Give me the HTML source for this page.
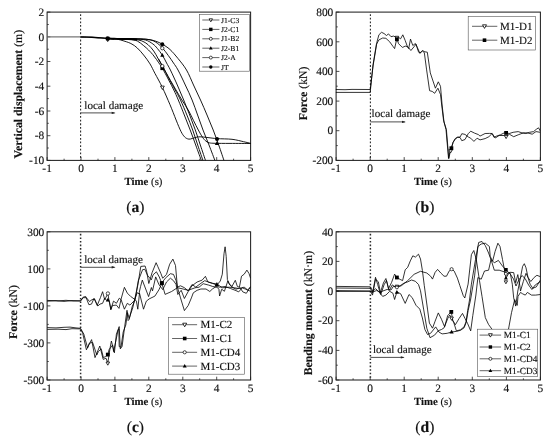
<!DOCTYPE html>
<html><head><meta charset="utf-8"><title>Figure</title>
<style>html,body{margin:0;padding:0;background:#fff;overflow:hidden}svg{display:block}text{stroke:#111;stroke-width:0.15px}</style></head>
<body>
<svg width="550" height="439" viewBox="0 0 550 439" font-family="'Liberation Serif',serif" fill="#111" text-rendering="geometricPrecision" >
<rect x="47.1" y="12.1" width="203.5" height="148.3" fill="none" stroke="#222" stroke-width="1.05"/>
<path d="M47.1 160.4 v-3.3 M64.1 160.4 v-1.7 M81.0 160.4 v-3.3 M98.0 160.4 v-1.7 M114.9 160.4 v-3.3 M131.9 160.4 v-1.7 M148.8 160.4 v-3.3 M165.8 160.4 v-1.7 M182.8 160.4 v-3.3 M199.7 160.4 v-1.7 M216.7 160.4 v-3.3 M233.6 160.4 v-1.7 M250.6 160.4 v-3.3 M47.1 12.1 h3.3 M47.1 24.5 h1.7 M47.1 36.8 h3.3 M47.1 49.2 h1.7 M47.1 61.5 h3.3 M47.1 73.9 h1.7 M47.1 86.2 h3.3 M47.1 98.6 h1.7 M47.1 111.0 h3.3 M47.1 123.3 h1.7 M47.1 135.7 h3.3 M47.1 148.0 h1.7 M47.1 160.4 h3.3 " stroke="#222" stroke-width="0.8" fill="none"/>
<text x="47.1" y="172.1" font-size="11.4" text-anchor="middle" font-weight="normal" >-1</text>
<text x="81.0" y="172.1" font-size="11.4" text-anchor="middle" font-weight="normal" >0</text>
<text x="114.9" y="172.1" font-size="11.4" text-anchor="middle" font-weight="normal" >1</text>
<text x="148.8" y="172.1" font-size="11.4" text-anchor="middle" font-weight="normal" >2</text>
<text x="182.8" y="172.1" font-size="11.4" text-anchor="middle" font-weight="normal" >3</text>
<text x="216.7" y="172.1" font-size="11.4" text-anchor="middle" font-weight="normal" >4</text>
<text x="250.6" y="172.1" font-size="11.4" text-anchor="middle" font-weight="normal" >5</text>
<text x="44.3" y="15.8" font-size="11.4" text-anchor="end" font-weight="normal" >2</text>
<text x="44.3" y="40.5" font-size="11.4" text-anchor="end" font-weight="normal" >0</text>
<text x="44.3" y="65.2" font-size="11.4" text-anchor="end" font-weight="normal" >-2</text>
<text x="44.3" y="90.0" font-size="11.4" text-anchor="end" font-weight="normal" >-4</text>
<text x="44.3" y="114.7" font-size="11.4" text-anchor="end" font-weight="normal" >-6</text>
<text x="44.3" y="139.4" font-size="11.4" text-anchor="end" font-weight="normal" >-8</text>
<text x="44.3" y="164.1" font-size="11.4" text-anchor="end" font-weight="normal" >-10</text>
<path d="M80.6 12.1 V160.4" stroke="#2a2a2a" stroke-width="1.1" stroke-dasharray="1.8 1.84" stroke-dashoffset="1.6" fill="none"/>
<text x="143.5" y="185.1" font-size="10.8" text-anchor="middle"><tspan font-weight="bold">Time</tspan> (s)</text>
<text transform="translate(22.3 94.1) rotate(-90)" font-size="11.8" text-anchor="middle"><tspan font-weight="bold">Vertical displacement</tspan> (m)</text>
<text x="135.4" y="212.4" font-size="15.6" text-anchor="middle">(<tspan font-weight="bold">a</tspan>)</text>
<rect x="336.1" y="12.1" width="204.3" height="148.3" fill="none" stroke="#222" stroke-width="1.05"/>
<path d="M336.1 160.4 v-3.3 M353.1 160.4 v-1.7 M370.2 160.4 v-3.3 M387.2 160.4 v-1.7 M404.2 160.4 v-3.3 M421.2 160.4 v-1.7 M438.2 160.4 v-3.3 M455.3 160.4 v-1.7 M472.3 160.4 v-3.3 M489.3 160.4 v-1.7 M506.4 160.4 v-3.3 M523.4 160.4 v-1.7 M540.4 160.4 v-3.3 M336.1 12.1 h3.3 M336.1 26.9 h1.7 M336.1 41.8 h3.3 M336.1 56.6 h1.7 M336.1 71.4 h3.3 M336.1 86.2 h1.7 M336.1 101.1 h3.3 M336.1 115.9 h1.7 M336.1 130.7 h3.3 M336.1 145.6 h1.7 M336.1 160.4 h3.3 " stroke="#222" stroke-width="0.8" fill="none"/>
<text x="336.1" y="172.1" font-size="11.4" text-anchor="middle" font-weight="normal" >-1</text>
<text x="370.2" y="172.1" font-size="11.4" text-anchor="middle" font-weight="normal" >0</text>
<text x="404.2" y="172.1" font-size="11.4" text-anchor="middle" font-weight="normal" >1</text>
<text x="438.2" y="172.1" font-size="11.4" text-anchor="middle" font-weight="normal" >2</text>
<text x="472.3" y="172.1" font-size="11.4" text-anchor="middle" font-weight="normal" >3</text>
<text x="506.4" y="172.1" font-size="11.4" text-anchor="middle" font-weight="normal" >4</text>
<text x="540.4" y="172.1" font-size="11.4" text-anchor="middle" font-weight="normal" >5</text>
<text x="333.3" y="15.8" font-size="11.4" text-anchor="end" font-weight="normal" >800</text>
<text x="333.3" y="45.5" font-size="11.4" text-anchor="end" font-weight="normal" >600</text>
<text x="333.3" y="75.1" font-size="11.4" text-anchor="end" font-weight="normal" >400</text>
<text x="333.3" y="104.8" font-size="11.4" text-anchor="end" font-weight="normal" >200</text>
<text x="333.3" y="134.4" font-size="11.4" text-anchor="end" font-weight="normal" >0</text>
<text x="333.3" y="164.1" font-size="11.4" text-anchor="end" font-weight="normal" >-200</text>
<path d="M370.4 12.1 V160.4" stroke="#2a2a2a" stroke-width="1.1" stroke-dasharray="1.8 1.84" stroke-dashoffset="1.6" fill="none"/>
<text x="432.9" y="185.1" font-size="10.8" text-anchor="middle"><tspan font-weight="bold">Time</tspan> (s)</text>
<text transform="translate(306.6 93.4) rotate(-90)" font-size="11.8" text-anchor="middle"><tspan font-weight="bold">Force</tspan> (kN)</text>
<text x="424.9" y="212.4" font-size="15.6" text-anchor="middle">(<tspan font-weight="bold">b</tspan>)</text>
<rect x="47.1" y="231.8" width="203.5" height="148.2" fill="none" stroke="#222" stroke-width="1.05"/>
<path d="M47.1 380.0 v-3.3 M64.1 380.0 v-1.7 M81.0 380.0 v-3.3 M98.0 380.0 v-1.7 M114.9 380.0 v-3.3 M131.9 380.0 v-1.7 M148.8 380.0 v-3.3 M165.8 380.0 v-1.7 M182.8 380.0 v-3.3 M199.7 380.0 v-1.7 M216.7 380.0 v-3.3 M233.6 380.0 v-1.7 M250.6 380.0 v-3.3 M47.1 231.8 h3.3 M47.1 250.3 h1.7 M47.1 268.9 h3.3 M47.1 287.4 h1.7 M47.1 305.9 h3.3 M47.1 324.4 h1.7 M47.1 342.9 h3.3 M47.1 361.5 h1.7 M47.1 380.0 h3.3 " stroke="#222" stroke-width="0.8" fill="none"/>
<text x="47.1" y="391.7" font-size="11.4" text-anchor="middle" font-weight="normal" >-1</text>
<text x="81.0" y="391.7" font-size="11.4" text-anchor="middle" font-weight="normal" >0</text>
<text x="114.9" y="391.7" font-size="11.4" text-anchor="middle" font-weight="normal" >1</text>
<text x="148.8" y="391.7" font-size="11.4" text-anchor="middle" font-weight="normal" >2</text>
<text x="182.8" y="391.7" font-size="11.4" text-anchor="middle" font-weight="normal" >3</text>
<text x="216.7" y="391.7" font-size="11.4" text-anchor="middle" font-weight="normal" >4</text>
<text x="250.6" y="391.7" font-size="11.4" text-anchor="middle" font-weight="normal" >5</text>
<text x="44.3" y="235.5" font-size="11.4" text-anchor="end" font-weight="normal" >300</text>
<text x="44.3" y="272.6" font-size="11.4" text-anchor="end" font-weight="normal" >100</text>
<text x="44.3" y="309.6" font-size="11.4" text-anchor="end" font-weight="normal" >-100</text>
<text x="44.3" y="346.6" font-size="11.4" text-anchor="end" font-weight="normal" >-300</text>
<text x="44.3" y="383.7" font-size="11.4" text-anchor="end" font-weight="normal" >-500</text>
<path d="M80.6 231.8 V380.0" stroke="#2a2a2a" stroke-width="1.5" stroke-dasharray="1.6 1.96" stroke-dashoffset="1.5" fill="none"/>
<text x="143.5" y="404.7" font-size="10.8" text-anchor="middle"><tspan font-weight="bold">Time</tspan> (s)</text>
<text transform="translate(16.6 312.0) rotate(-90)" font-size="11.8" text-anchor="middle"><tspan font-weight="bold">Force</tspan> (kN)</text>
<text x="135.4" y="432.0" font-size="15.6" text-anchor="middle">(<tspan font-weight="bold">c</tspan>)</text>
<rect x="336.1" y="231.8" width="204.3" height="148.2" fill="none" stroke="#222" stroke-width="1.05"/>
<path d="M336.1 380.0 v-3.3 M353.1 380.0 v-1.7 M370.2 380.0 v-3.3 M387.2 380.0 v-1.7 M404.2 380.0 v-3.3 M421.2 380.0 v-1.7 M438.2 380.0 v-3.3 M455.3 380.0 v-1.7 M472.3 380.0 v-3.3 M489.3 380.0 v-1.7 M506.4 380.0 v-3.3 M523.4 380.0 v-1.7 M540.4 380.0 v-3.3 M336.1 231.8 h3.3 M336.1 246.6 h1.7 M336.1 261.4 h3.3 M336.1 276.3 h1.7 M336.1 291.1 h3.3 M336.1 305.9 h1.7 M336.1 320.7 h3.3 M336.1 335.5 h1.7 M336.1 350.4 h3.3 M336.1 365.2 h1.7 M336.1 380.0 h3.3 " stroke="#222" stroke-width="0.8" fill="none"/>
<text x="336.1" y="391.7" font-size="11.4" text-anchor="middle" font-weight="normal" >-1</text>
<text x="370.2" y="391.7" font-size="11.4" text-anchor="middle" font-weight="normal" >0</text>
<text x="404.2" y="391.7" font-size="11.4" text-anchor="middle" font-weight="normal" >1</text>
<text x="438.2" y="391.7" font-size="11.4" text-anchor="middle" font-weight="normal" >2</text>
<text x="472.3" y="391.7" font-size="11.4" text-anchor="middle" font-weight="normal" >3</text>
<text x="506.4" y="391.7" font-size="11.4" text-anchor="middle" font-weight="normal" >4</text>
<text x="540.4" y="391.7" font-size="11.4" text-anchor="middle" font-weight="normal" >5</text>
<text x="333.3" y="235.5" font-size="11.4" text-anchor="end" font-weight="normal" >40</text>
<text x="333.3" y="265.1" font-size="11.4" text-anchor="end" font-weight="normal" >20</text>
<text x="333.3" y="294.8" font-size="11.4" text-anchor="end" font-weight="normal" >0</text>
<text x="333.3" y="324.4" font-size="11.4" text-anchor="end" font-weight="normal" >-20</text>
<text x="333.3" y="354.1" font-size="11.4" text-anchor="end" font-weight="normal" >-40</text>
<text x="333.3" y="383.7" font-size="11.4" text-anchor="end" font-weight="normal" >-60</text>
<path d="M370.4 231.8 V380.0" stroke="#2a2a2a" stroke-width="1.5" stroke-dasharray="1.6 1.96" stroke-dashoffset="1.5" fill="none"/>
<text x="432.9" y="404.7" font-size="10.8" text-anchor="middle"><tspan font-weight="bold">Time</tspan> (s)</text>
<text transform="translate(311.6 313.1) rotate(-90)" font-size="11.8" text-anchor="middle"><tspan font-weight="bold">Bending moment</tspan> (kN·m)</text>
<text x="424.9" y="432.0" font-size="15.6" text-anchor="middle">(<tspan font-weight="bold">d</tspan>)</text>
<path d="M80.6 112.9 H114.5" stroke="#222" stroke-width="0.8"/>
<path d="M115.5 112.9 l-3.8 -1.2 v2.4 Z" fill="#222"/>
<text x="84.3" y="109.1" font-size="11.1" text-anchor="start" font-weight="normal" >local damage</text>
<path d="M370.4 121.9 H404.8" stroke="#222" stroke-width="0.8"/>
<path d="M405.8 121.9 l-3.8 -1.2 v2.4 Z" fill="#222"/>
<text x="371.6" y="117.2" font-size="11.1" text-anchor="start" font-weight="normal" >local damage</text>
<path d="M80.6 267.3 H114.5" stroke="#222" stroke-width="0.8"/>
<path d="M115.5 267.3 l-3.8 -1.2 v2.4 Z" fill="#222"/>
<text x="84.2" y="263.3" font-size="11.1" text-anchor="start" font-weight="normal" >local damage</text>
<path d="M370.4 357.4 H403.6" stroke="#222" stroke-width="0.8"/>
<path d="M404.6 357.4 l-3.8 -1.2 v2.4 Z" fill="#222"/>
<text x="372.9" y="353.2" font-size="11.1" text-anchor="start" font-weight="normal" >local damage</text>
<clipPath id="ca"><rect x="47.3" y="11.9" width="203.5" height="148.4"/></clipPath><g clip-path="url(#ca)">
<path d="M80.7 36.9 C81.9 36.9 85.6 37.0 88.0 37.1 C90.4 37.2 92.8 37.4 95.0 37.5 C97.2 37.6 98.9 37.8 101.0 37.9 C103.1 38.0 105.5 38.3 107.7 38.4 C109.9 38.5 113.0 38.7 114.0 38.8" fill="none" stroke="#000" stroke-width="1.45" stroke-linejoin="round" />
<path d="M47.1 36.9 L81.5 36.9" fill="none" stroke="#777" stroke-width="1.1" stroke-linejoin="round" />
<path d="M107.7 38.5 C108.8 38.5 112.0 38.7 114.0 38.8 C116.0 38.9 118.0 38.9 120.0 39.0 C122.0 39.0 124.0 39.0 126.0 39.0 C128.0 39.1 130.2 39.2 132.0 39.3 C133.8 39.4 136.2 39.6 137.0 39.7" fill="none" stroke="#000" stroke-width="1.9" stroke-linejoin="round" />
<path d="M80.7 36.9 C83.7 36.9 85.6 37.0 88.0 37.1 C90.4 37.2 92.8 37.4 95.0 37.5 C97.2 37.6 98.9 37.8 101.0 37.9 C103.1 38.0 105.5 38.3 107.7 38.4 C109.9 38.5 112.3 38.6 114.0 38.8 C115.7 38.9 116.7 39.1 118.0 39.4 C119.3 39.7 119.8 39.7 122.0 40.4 C124.2 41.1 128.3 42.2 130.9 43.5 C133.5 44.8 135.2 46.1 137.3 48.0 C139.4 49.9 141.5 52.4 143.6 55.0 C145.7 57.6 148.1 60.8 150.0 63.9 C151.9 67.0 152.9 69.6 155.0 73.5 C157.1 77.4 159.9 82.3 162.4 87.5 C164.9 92.7 167.7 99.3 170.0 104.7 C172.3 110.1 174.3 115.5 176.1 120.0 C177.9 124.5 179.6 128.7 181.0 131.5 C182.4 134.3 183.4 135.6 184.5 136.8 C185.6 138.0 186.5 138.4 187.5 138.8 C188.5 139.2 189.2 139.2 190.5 139.0 C191.8 138.8 193.4 138.0 195.0 137.6 C196.6 137.2 197.8 136.8 200.0 136.8 C202.2 136.8 205.2 137.3 208.0 137.6 C210.8 137.9 213.0 138.3 217.0 138.6 C221.0 138.9 227.6 138.8 232.0 139.3 C236.4 139.8 240.5 141.0 243.6 141.7 C246.7 142.4 249.6 143.1 250.8 143.4" fill="none" stroke="#000" stroke-width="0.9" stroke-linejoin="round" />
<path d="M107.7 38.4 C109.9 38.5 112.0 38.7 114.0 38.8 C116.0 38.8 118.2 38.9 120.0 38.9 C121.8 38.9 122.5 38.9 125.0 38.9 C127.5 38.9 132.2 38.9 135.0 38.9 C137.8 38.9 139.5 38.9 142.0 39.0 C144.5 39.1 147.7 39.3 150.0 39.7 C152.3 40.1 153.9 40.5 156.0 41.3 C158.1 42.0 160.0 42.8 162.3 44.2 C164.6 45.6 167.4 47.1 170.0 49.5 C172.6 51.9 175.2 55.1 178.0 58.5 C180.8 61.9 183.9 65.6 186.5 70.0 C189.1 74.4 191.2 80.0 193.5 85.0 C195.8 90.0 198.2 95.0 200.5 100.0 C202.8 105.0 204.9 110.0 207.0 115.0 C209.1 120.0 211.2 125.0 213.2 130.0 C215.1 135.0 216.8 139.7 218.7 145.0 C220.6 150.3 223.5 159.2 224.5 162.0" fill="none" stroke="#000" stroke-width="0.9" stroke-linejoin="round" />
<path d="M125.0 38.9 C128.0 38.9 134.1 38.8 138.0 38.9 C141.9 39.0 145.3 39.0 148.2 39.5 C151.1 40.0 153.2 40.6 155.5 42.0 C157.8 43.4 160.2 45.5 162.3 47.8 C164.4 50.0 166.4 53.0 168.3 55.5 C170.2 58.0 171.9 60.6 173.5 63.0 C175.1 65.4 176.0 66.3 178.0 70.0 C180.0 73.7 183.0 80.0 185.3 85.0 C187.7 90.0 190.1 95.0 192.1 100.0 C194.1 105.0 195.8 110.0 197.6 115.0 C199.4 120.0 201.1 125.0 203.0 130.0 C204.9 135.0 206.9 139.7 209.0 145.0 C211.1 150.3 214.4 159.2 215.5 162.0" fill="none" stroke="#000" stroke-width="0.9" stroke-linejoin="round" />
<path d="M125.0 38.9 C127.5 38.9 131.6 38.7 135.0 38.9 C138.4 39.1 142.5 39.2 145.5 40.0 C148.5 40.8 150.8 42.5 152.8 43.9 C154.8 45.3 155.7 46.5 157.3 48.4 C158.9 50.3 160.8 52.7 162.3 55.1 C163.9 57.5 165.2 60.5 166.6 63.0 C167.9 65.5 168.6 66.3 170.4 70.0 C172.2 73.7 175.1 80.0 177.3 85.0 C179.5 90.0 181.6 95.0 183.7 100.0 C185.8 105.0 187.8 110.0 189.7 115.0 C191.6 120.0 193.5 125.0 195.3 130.0 C197.1 135.0 198.5 139.7 200.3 145.0 C202.1 150.3 205.1 159.2 206.0 162.0" fill="none" stroke="#000" stroke-width="0.9" stroke-linejoin="round" />
<path d="M120.0 38.9 C121.7 38.9 122.3 38.9 124.0 39.0 C125.7 39.1 127.8 39.0 130.0 39.3 C132.2 39.6 135.0 39.9 137.3 41.0 C139.6 42.1 141.8 44.2 143.7 45.7 C145.6 47.2 147.0 48.5 148.5 50.0 C150.0 51.5 151.5 53.0 152.8 54.6 C154.1 56.2 155.3 57.8 156.5 59.5 C157.7 61.2 159.0 63.1 160.0 64.6 C161.0 66.0 161.4 66.7 162.3 68.2 C163.2 69.7 164.2 71.5 165.3 73.6 C166.5 75.7 167.8 78.3 169.2 81.0 C170.6 83.7 172.3 86.8 173.8 90.0 C175.3 93.2 176.6 95.8 178.3 100.0 C180.1 104.2 182.3 110.0 184.3 115.0 C186.3 120.0 188.3 125.0 190.2 130.0 C192.1 135.0 193.8 139.7 195.7 145.0 C197.6 150.3 200.9 159.2 201.9 162.0" fill="none" stroke="#000" stroke-width="0.9" stroke-linejoin="round" />
<path d="M125.0 38.9 C127.3 39.0 131.2 39.0 134.0 39.3 C136.8 39.6 139.4 40.0 141.8 40.9 C144.2 41.8 146.2 43.1 148.2 44.8 C150.2 46.5 152.0 48.7 153.7 51.0 C155.4 53.3 156.8 56.3 158.2 58.8 C159.6 61.3 161.0 63.8 162.3 66.1 C163.6 68.4 164.5 70.2 165.8 72.6 C167.1 75.0 168.4 77.6 170.0 80.5 C171.6 83.4 173.4 86.8 175.2 90.0 C176.9 93.2 178.6 95.8 180.5 100.0 C182.4 104.2 184.9 110.0 186.9 115.0 C188.9 120.0 190.9 125.0 192.7 130.0 C194.5 135.0 195.9 139.7 197.7 145.0 C199.5 150.3 202.5 159.2 203.5 162.0" fill="none" stroke="#000" stroke-width="0.9" stroke-linejoin="round" />
<path d="M158.5 58.8 C159.9 61.3 161.2 63.7 162.5 66.0 C163.8 68.3 164.8 70.2 166.1 72.6 C167.4 75.0 168.8 77.6 170.5 80.5 C172.2 83.4 174.1 86.8 176.0 90.0 C177.9 93.2 179.8 96.5 181.9 100.0 C184.0 103.5 186.9 107.6 188.8 111.0 C190.7 114.4 191.9 117.3 193.5 120.5 C195.1 123.7 196.8 127.2 198.3 130.0 C199.8 132.8 201.4 135.6 202.7 137.5 C204.0 139.4 204.9 140.3 206.0 141.2 C207.1 142.1 208.0 142.6 209.5 142.9 C211.0 143.2 211.6 143.2 215.0 143.3 C218.4 143.4 224.0 143.4 230.0 143.4 C236.0 143.4 247.3 143.5 250.8 143.5" fill="none" stroke="#000" stroke-width="0.9" stroke-linejoin="round" />
</g>
<path d="M162.4 89.5 L164.3 86.1 L160.5 86.1 Z" fill="#fff" stroke="#000" stroke-width="0.8"/>
<rect x="160.4" y="66.3" width="3.8" height="3.8" fill="#000"/>
<circle cx="162.3" cy="66.1" r="1.7" fill="#fff" stroke="#000" stroke-width="0.7"/>
<path d="M162.3 52.9 L164.4 56.7 L160.2 56.7 Z" fill="#000"/>
<circle cx="162.3" cy="48.2" r="1.7" fill="#fff" stroke="#000" stroke-width="0.7"/>
<circle cx="162.3" cy="44.2" r="2.0" fill="#000"/>
<path d="M107.7 41.6 L109.6 38.2 L105.8 38.2 Z" fill="#fff" stroke="#000" stroke-width="0.8"/>
<circle cx="107.7" cy="38.5" r="2.3" fill="#000"/>
<path d="M217.0 140.9 L219.2 144.9 L214.8 144.9 Z" fill="#000"/>
<circle cx="217.0" cy="139.0" r="2.0" fill="#000"/>
<rect x="199.4" y="14.4" width="50" height="56.8" fill="#fff" stroke="#555" stroke-width="0.6"/>
<path d="M202.3 20.0 H219.4" stroke="#222" stroke-width="0.7"/>
<path d="M210.8 21.8 L212.5 18.8 L209.1 18.8 Z" fill="#fff" stroke="#000" stroke-width="0.8"/>
<text x="221.1" y="22.5" font-size="7.6" text-anchor="start" font-weight="normal" >J1-C3</text>
<path d="M202.3 29.4 H219.4" stroke="#222" stroke-width="0.7"/>
<rect x="209.1" y="27.7" width="3.4" height="3.4" fill="#000"/>
<text x="221.1" y="31.9" font-size="7.6" text-anchor="start" font-weight="normal" >J2-C1</text>
<path d="M202.3 38.8 H219.4" stroke="#222" stroke-width="0.7"/>
<circle cx="210.8" cy="38.8" r="1.5" fill="#fff" stroke="#000" stroke-width="0.7"/>
<text x="221.1" y="41.3" font-size="7.6" text-anchor="start" font-weight="normal" >J1-B2</text>
<path d="M202.3 48.2 H219.4" stroke="#222" stroke-width="0.7"/>
<path d="M210.8 46.2 L212.7 49.6 L208.9 49.6 Z" fill="#000"/>
<text x="221.1" y="50.7" font-size="7.6" text-anchor="start" font-weight="normal" >J2-B1</text>
<path d="M202.3 57.6 H219.4" stroke="#222" stroke-width="0.7"/>
<circle cx="210.8" cy="57.6" r="1.5" fill="#fff" stroke="#000" stroke-width="0.7"/>
<text x="221.1" y="60.1" font-size="7.6" text-anchor="start" font-weight="normal" >J2-A</text>
<path d="M202.3 67.0 H219.4" stroke="#222" stroke-width="0.7"/>
<circle cx="210.8" cy="67.0" r="1.7" fill="#000"/>
<text x="221.1" y="69.5" font-size="7.6" text-anchor="start" font-weight="normal" >JT</text>
<clipPath id="cb"><rect x="335.6" y="11.9" width="204.7" height="148.4"/></clipPath><g clip-path="url(#cb)">
<path d="M335.6 89.5 L345.0 89.7 L352.0 89.4 L370.2 89.5 L373.2 65.0 L377.0 41.8 L378.9 34.8 L381.5 32.3 L384.0 33.5 L386.5 35.5 L388.5 33.9 L391.0 36.7 L393.5 36.1 L396.9 37.6 L398.6 37.4 L400.6 38.8 L402.8 34.8 L405.2 40.5 L407.7 47.4 L408.7 48.6 L410.5 39.1 L412.8 45.5 L415.4 43.5 L417.3 47.4 L419.8 53.1 L422.4 50.5 L424.9 51.8 L427.3 52.2 L430.3 72.9 L435.4 88.2 L438.3 81.8 L440.5 86.3 L442.1 105.0 L444.0 122.0 L446.4 129.6 L448.8 158.6 L450.1 152.3 L451.4 148.2 L453.2 142.3 L455.5 138.7 L457.8 137.3 L460.0 137.4 L461.8 140.7 L465.0 139.5 L468.2 133.7 L470.7 131.2 L474.5 133.1 L478.4 134.6 L480.0 136.1 L485.1 133.5 L489.5 133.4 L492.1 133.5 L494.0 137.4 L496.5 136.1 L500.4 134.8 L504.2 132.9 L506.1 132.9 L509.3 133.5 L513.1 132.3 L518.2 131.6 L522.0 132.9 L525.8 133.5 L529.6 132.3 L533.5 131.6 L536.6 129.1 L538.5 127.8 L540.3 131.0" fill="none" stroke="#000" stroke-width="0.8" stroke-linejoin="round" />
<path d="M335.6 92.4 L370.2 92.4 L373.0 65.0 L376.4 44.4 L378.9 39.9 L382.7 38.0 L385.9 38.3 L389.7 41.8 L392.9 46.3 L394.6 48.6 L396.1 41.8 L397.0 39.3 L398.6 43.7 L401.2 46.3 L402.6 47.4 L405.2 46.1 L407.7 46.7 L410.9 50.5 L414.1 46.7 L416.0 44.2 L418.5 51.8 L419.8 53.3 L422.4 51.2 L424.3 52.5 L426.5 69.1 L429.6 90.7 L432.2 91.4 L434.7 93.3 L437.9 88.2 L440.5 94.5 L441.7 105.0 L443.5 120.0 L446.0 129.6 L448.5 158.3 L449.8 152.3 L451.4 147.8 L453.0 142.3 L455.3 138.5 L457.6 137.1 L460.0 137.2 L461.8 133.7 L465.0 134.4 L468.2 136.9 L470.7 138.2 L473.9 141.4 L477.1 138.2 L480.0 139.9 L485.1 138.6 L488.9 136.7 L492.1 133.5 L495.3 138.0 L499.1 135.5 L504.2 135.5 L506.1 136.7 L509.3 134.2 L513.7 136.7 L518.2 134.8 L523.3 132.9 L527.7 132.9 L532.2 134.2 L536.0 131.6 L540.3 132.3" fill="none" stroke="#000" stroke-width="0.8" stroke-linejoin="round" />
</g>
<path d="M396.9 39.5 L398.7 36.3 L395.1 36.3 Z" fill="#fff" stroke="#000" stroke-width="0.8"/>
<rect x="395.0" y="37.4" width="3.8" height="3.8" fill="#000"/>
<path d="M450.6 152.9 L452.4 149.7 L448.8 149.7 Z" fill="#fff" stroke="#000" stroke-width="0.8"/>
<rect x="449.5" y="146.3" width="3.8" height="3.8" fill="#000"/>
<path d="M506.1 138.6 L507.9 135.4 L504.3 135.4 Z" fill="#fff" stroke="#000" stroke-width="0.8"/>
<rect x="504.2" y="131.0" width="3.8" height="3.8" fill="#000"/>
<rect x="468.2" y="16.5" width="67.1" height="33.5" fill="#fff" stroke="#555" stroke-width="0.6"/>
<path d="M472 26.3 H497.3" stroke="#222" stroke-width="0.7"/>
<path d="M484.5 28.4 L486.5 24.8 L482.5 24.8 Z" fill="#fff" stroke="#000" stroke-width="0.8"/>
<text x="500.1" y="30.0" font-size="11" text-anchor="start" font-weight="normal" >M1-D1</text>
<path d="M472 40.2 H497.3" stroke="#222" stroke-width="0.7"/>
<rect x="482.7" y="38.4" width="3.6" height="3.6" fill="#000"/>
<text x="500.1" y="43.9" font-size="11" text-anchor="start" font-weight="normal" >M1-D2</text>
<clipPath id="cc"><rect x="47.1" y="231.8" width="203.5" height="148.2"/></clipPath><g clip-path="url(#cc)">
<path d="M47.1 329.4 L58.0 329.2 L66.0 329.6 L72.0 328.7 L80.5 328.9 L82.7 333.2 L86.4 349.8 L91.6 339.6 L95.0 357.6 L99.8 346.0 L103.2 359.4 L106.0 358.2 L107.8 363.0 L110.1 347.8 L111.4 341.0 L114.4 352.8 L116.4 334.1 L119.2 326.6 L120.3 348.9 L122.1 346.4 L124.7 326.5 L127.0 310.3 L128.1 320.6 L129.2 319.4 L132.1 306.9 L134.9 300.1 L137.8 285.3 L140.8 266.4 L145.1 266.0 L146.6 271.1 L148.8 283.5 L152.1 272.6 L156.1 262.7 L157.9 266.7 L160.8 273.3 L162.7 278.2 L166.5 274.4 L169.7 264.2 L172.9 259.1 L175.5 265.5 L177.4 287.1 L180.5 297.9 L184.4 310.6 L188.2 305.5 L191.4 297.9 L193.3 292.8 L197.1 290.3 L200.9 289.0 L206.0 289.0 L209.8 291.5 L212.4 289.0 L216.2 286.5 L219.6 287.2 L225.1 286.5 L230.5 288.5 L236.0 290.6 L238.7 291.9 L242.2 287.8 L245.6 289.2 L250.6 291.3" fill="none" stroke="#000" stroke-width="0.8" stroke-linejoin="round" />
<path d="M47.1 327.6 L56.0 327.9 L64.0 327.3 L70.0 327.1 L76.0 327.9 L80.5 328.3 L83.8 334.1 L87.6 348.0 L89.3 343.2 L92.6 342.4 L96.8 355.0 L98.4 351.6 L101.2 348.8 L103.4 357.6 L105.5 356.6 L107.8 354.6 L109.1 349.6 L112.6 345.0 L113.6 351.6 L118.0 330.5 L118.8 329.0 L119.2 346.6 L121.0 347.2 L123.2 332.0 L125.8 325.0 L127.5 312.6 L129.2 318.3 L132.7 308.0 L136.1 293.2 L138.3 280.7 L142.6 269.7 L144.8 269.3 L147.7 275.5 L151.3 279.9 L153.1 274.8 L156.4 271.8 L159.3 277.0 L161.7 283.1 L165.3 278.2 L170.4 273.7 L173.5 274.4 L176.1 280.7 L177.4 287.1 L180.5 285.8 L184.4 287.7 L188.2 290.9 L192.0 284.5 L195.8 287.1 L200.9 283.3 L204.7 280.7 L208.5 282.0 L212.4 283.3 L216.8 283.9 L222.3 287.8 L229.2 287.2 L234.6 287.8 L238.7 288.5 L244.2 287.2 L247.6 289.9 L250.6 287.2" fill="none" stroke="#000" stroke-width="0.8" stroke-linejoin="round" />
<path d="M47.1 300.4 L58.0 300.9 L66.0 300.3 L73.0 301.0 L80.6 300.9 L83.2 297.1 L85.7 296.5 L88.9 304.7 L91.5 304.1 L94.0 298.4 L97.2 305.4 L100.4 297.7 L102.6 291.7 L104.7 299.7 L107.9 293.5 L109.1 301.1 L110.9 309.2 L113.5 301.1 L116.4 303.3 L119.3 298.2 L121.1 299.7 L124.4 309.2 L127.3 303.3 L129.9 305.1 L134.4 300.6 L137.2 292.7 L138.9 293.8 L140.6 286.4 L142.3 280.1 L148.6 296.6 L151.4 287.5 L152.5 290.9 L155.7 276.9 L158.9 284.5 L162.7 289.6 L166.5 282.0 L170.4 278.2 L173.5 280.7 L176.1 284.5 L177.8 294.5 L181.2 290.3 L184.4 298.5 L188.2 291.5 L190.7 287.7 L192.0 285.8 L197.1 282.0 L202.2 280.1 L205.4 276.3 L207.9 282.0 L212.4 283.3 L216.9 285.1 L220.3 281.0 L222.3 274.2 L224.0 253.7 L225.1 246.8 L226.2 256.4 L227.4 279.6 L229.2 283.7 L231.9 286.5 L235.3 280.3 L237.4 286.5 L239.4 287.2 L241.5 276.2 L244.2 274.2 L246.9 270.1 L249.0 273.5 L250.6 278.3" fill="none" stroke="#000" stroke-width="0.8" stroke-linejoin="round" />
<path d="M47.1 301.2 L56.0 300.7 L64.0 301.4 L72.0 300.6 L80.6 300.9 L83.2 297.7 L86.4 297.7 L89.5 301.5 L92.1 299.6 L94.6 299.0 L97.8 306.0 L100.0 304.1 L102.6 303.3 L104.7 298.2 L106.6 300.4 L107.9 300.0 L109.5 301.9 L110.8 309.9 L112.4 305.5 L116.4 305.1 L119.0 308.4 L121.1 299.0 L124.4 287.3 L127.3 293.1 L130.6 296.4 L134.6 299.3 L136.4 301.1 L137.8 309.2 L139.5 293.2 L143.5 309.2 L146.3 301.2 L149.2 298.9 L154.9 296.1 L158.9 289.8 L161.9 283.5 L165.1 294.4 L171.6 291.5 L177.4 287.7 L183.1 289.0 L188.2 290.3 L195.0 287.8 L199.1 287.2 L203.2 283.7 L208.7 285.1 L212.8 286.5 L216.9 287.2 L218.9 289.2 L219.6 296.0 L221.7 289.2 L224.4 291.3 L227.8 281.0 L229.9 285.1 L233.3 287.8 L236.0 289.2 L240.1 287.8 L242.8 291.9 L246.3 293.3 L250.6 286.5" fill="none" stroke="#000" stroke-width="0.8" stroke-linejoin="round" />
</g>
<path d="M107.8 365.2 L109.6 362.0 L106.0 362.0 Z" fill="#fff" stroke="#000" stroke-width="0.8"/>
<rect x="105.9" y="352.7" width="3.8" height="3.8" fill="#000"/>
<circle cx="107.9" cy="293.5" r="1.7" fill="#fff" stroke="#000" stroke-width="0.7"/>
<path d="M107.9 297.8 L110.0 301.6 L105.8 301.6 Z" fill="#000"/>
<rect x="159.9" y="281.1" width="4.0" height="4.0" fill="#000"/>
<path d="M216.9 282.0 L219.2 286.2 L214.6 286.2 Z" fill="#000"/>
<rect x="168.6" y="317.3" width="76" height="56.9" fill="#fff" stroke="#555" stroke-width="0.6"/>
<path d="M172.1 324.7 H197.1" stroke="#222" stroke-width="0.7"/>
<path d="M184.7 326.8 L186.7 323.2 L182.7 323.2 Z" fill="#fff" stroke="#000" stroke-width="0.8"/>
<text x="200.6" y="328.4" font-size="11" text-anchor="start" font-weight="normal" >M1-C2</text>
<path d="M172.1 338.5 H197.1" stroke="#222" stroke-width="0.7"/>
<rect x="182.9" y="336.7" width="3.6" height="3.6" fill="#000"/>
<text x="200.6" y="342.2" font-size="11" text-anchor="start" font-weight="normal" >M1-C1</text>
<path d="M172.1 352.3 H197.1" stroke="#222" stroke-width="0.7"/>
<circle cx="184.7" cy="352.3" r="1.6" fill="#fff" stroke="#000" stroke-width="0.7"/>
<text x="200.6" y="356.0" font-size="11" text-anchor="start" font-weight="normal" >M1-CD4</text>
<path d="M172.1 366.1 H197.1" stroke="#222" stroke-width="0.7"/>
<path d="M184.7 364.0 L186.7 367.6 L182.7 367.6 Z" fill="#000"/>
<text x="200.6" y="369.8" font-size="11" text-anchor="start" font-weight="normal" >M1-CD3</text>
<clipPath id="cd"><rect x="336.1" y="231.8" width="204.3" height="148.2"/></clipPath><g clip-path="url(#cd)">
<path d="M336.1 288.0 L370.4 288.3 L372.5 293.2 L375.5 277.3 L377.6 284.3 L380.2 293.2 L383.4 283.0 L385.9 278.5 L388.5 288.7 L391.6 282.4 L394.6 274.1 L396.9 277.5 L400.1 279.4 L402.6 280.6 L405.2 269.8 L407.7 267.3 L410.3 260.9 L412.8 255.8 L415.4 257.1 L418.5 254.2 L420.5 259.0 L422.4 270.5 L424.3 285.7 L427.5 309.1 L429.4 323.1 L432.5 328.2 L435.1 321.2 L438.3 312.9 L441.5 319.3 L444.6 326.8 L447.7 315.5 L451.3 311.9 L452.8 320.6 L455.4 324.7 L459.0 318.6 L462.5 313.4 L465.1 318.6 L467.7 323.7 L470.7 330.9 L472.8 315.5 L475.9 295.0 L477.9 277.5 L481.2 279.2 L484.5 271.0 L488.6 270.2 L491.0 259.5 L494.3 262.8 L498.4 260.4 L502.5 266.1 L506.0 269.8 L510.6 274.5 L513.5 279.0 L516.0 286.0 L518.8 280.0 L522.1 275.5 L525.4 279.0 L528.6 285.0 L531.9 289.5 L535.2 285.0 L540.4 281.5" fill="none" stroke="#000" stroke-width="0.8" stroke-linejoin="round" />
<path d="M336.1 290.6 L370.4 291.0 L372.5 295.1 L375.5 279.2 L378.3 281.7 L380.8 294.5 L384.0 284.9 L386.5 280.5 L389.1 290.6 L392.3 284.9 L395.0 287.0 L400.1 285.7 L403.9 283.2 L407.7 281.9 L411.5 280.0 L415.4 281.3 L418.5 284.5 L420.5 290.8 L423.6 309.1 L426.8 328.2 L430.0 337.7 L434.5 335.2 L438.3 330.7 L441.5 329.5 L444.1 327.8 L447.7 318.6 L449.7 315.0 L451.6 318.1 L453.8 322.7 L456.4 330.9 L460.5 329.8 L464.1 326.8 L466.1 321.6 L467.7 310.4 L469.5 300.0 L471.4 284.1 L475.5 259.5 L478.7 242.4 L482.0 241.5 L485.3 245.6 L488.6 253.0 L491.8 262.0 L494.3 270.2 L499.2 270.2 L504.1 271.8 L506.0 273.9 L510.0 272.3 L513.7 272.6 L515.7 282.8 L517.8 274.6 L519.8 285.6 L520.5 291.0 L523.3 281.5 L526.0 273.3 L528.0 277.4 L530.8 281.5 L534.2 277.4 L536.9 275.3 L540.4 276.7" fill="none" stroke="#000" stroke-width="0.8" stroke-linejoin="round" />
<path d="M336.1 291.4 L370.4 291.3 L371.9 291.9 L375.7 288.7 L378.9 291.9 L382.7 296.4 L385.9 295.1 L389.7 291.3 L392.9 293.2 L394.6 299.5 L396.9 291.9 L400.7 293.8 L405.2 303.4 L409.0 294.5 L412.2 297.6 L416.0 305.3 L419.8 309.1 L422.4 318.0 L424.9 329.5 L427.5 334.5 L430.6 333.3 L435.7 326.9 L438.9 332.0 L442.1 333.9 L447.2 333.3 L451.6 332.0 L456.4 331.4 L460.5 330.3 L464.1 327.8 L466.1 322.7 L468.2 310.4 L470.5 300.0 L474.6 275.9 L477.9 246.5 L481.2 244.0 L485.3 243.2 L489.4 246.5 L490.2 256.3 L492.6 261.2 L495.1 251.4 L497.9 243.2 L500.0 246.5 L502.5 259.5 L506.0 278.0 L509.0 273.0 L510.3 273.3 L512.3 284.2 L513.7 297.9 L515.7 306.1 L517.8 291.0 L520.5 277.4 L522.6 266.4 L524.3 263.7 L526.0 267.8 L528.0 277.4 L530.1 284.2 L532.8 288.3 L536.3 286.9 L540.4 280.1" fill="none" stroke="#000" stroke-width="0.8" stroke-linejoin="round" />
<path d="M336.1 286.4 L370.4 286.8 L373.2 291.9 L376.4 290.6 L380.2 291.9 L384.0 290.6 L387.2 289.4 L391.0 290.0 L393.5 286.2 L396.9 287.4 L401.4 285.7 L407.7 280.6 L414.1 274.3 L420.5 271.3 L426.8 273.0 L430.6 276.2 L432.5 279.1 L435.1 272.4 L437.6 269.4 L440.8 273.0 L444.0 276.2 L446.5 276.2 L449.1 271.1 L451.6 268.9 L454.2 271.1 L457.4 278.1 L459.9 285.7 L463.2 295.5 L464.8 298.0 L468.1 284.1 L471.4 254.6 L473.8 250.5 L476.3 259.5 L479.5 280.8 L482.0 296.4 L485.3 317.6 L488.5 324.4 L492.2 329.5 L496.0 332.0 L501.0 332.5 L505.5 331.5 L508.5 329.2 L511.5 312.7 L514.7 299.6 L517.2 305.4 L518.0 296.4 L520.5 292.4 L522.6 293.8 L525.3 295.1 L527.4 292.4 L531.5 295.1 L535.6 295.1 L540.4 294.5" fill="none" stroke="#000" stroke-width="0.8" stroke-linejoin="round" />
</g>
<rect x="395.0" y="275.6" width="3.8" height="3.8" fill="#000"/>
<path d="M396.9 288.4 L398.7 285.2 L395.1 285.2 Z" fill="#fff" stroke="#000" stroke-width="0.8"/>
<circle cx="396.9" cy="287.4" r="1.5" fill="#fff" stroke="#000" stroke-width="0.7"/>
<path d="M396.9 289.9 L399.0 293.7 L394.8 293.7 Z" fill="#000"/>
<rect x="449.4" y="310.0" width="3.8" height="3.8" fill="#000"/>
<path d="M451.6 320.3 L453.4 317.1 L449.8 317.1 Z" fill="#fff" stroke="#000" stroke-width="0.8"/>
<circle cx="451.6" cy="269.2" r="1.6" fill="#fff" stroke="#000" stroke-width="0.7"/>
<path d="M451.6 329.7 L453.7 333.5 L449.5 333.5 Z" fill="#000"/>
<rect x="504.1" y="268.0" width="3.6" height="3.6" fill="#000"/>
<circle cx="505.9" cy="273.9" r="1.5" fill="#fff" stroke="#000" stroke-width="0.7"/>
<path d="M505.9 275.9 L507.9 279.5 L503.9 279.5 Z" fill="#000"/>
<path d="M505.9 283.8 L507.6 280.8 L504.2 280.8 Z" fill="#fff" stroke="#000" stroke-width="0.8"/>
<rect x="477.4" y="329.2" width="60.3" height="47.3" fill="#fff" stroke="#555" stroke-width="0.6"/>
<path d="M479.6 335.1 H501.1" stroke="#222" stroke-width="0.7"/>
<path d="M490.4 337.1 L492.3 333.7 L488.5 333.7 Z" fill="#fff" stroke="#000" stroke-width="0.8"/>
<text x="503.8" y="338.3" font-size="9.3" text-anchor="start" font-weight="normal" >M1-C1</text>
<path d="M479.6 347.0 H501.1" stroke="#222" stroke-width="0.7"/>
<rect x="488.7" y="345.3" width="3.4" height="3.4" fill="#000"/>
<text x="503.8" y="350.2" font-size="9.3" text-anchor="start" font-weight="normal" >M1-C2</text>
<path d="M479.6 358.8 H501.1" stroke="#222" stroke-width="0.7"/>
<circle cx="490.4" cy="358.8" r="1.5" fill="#fff" stroke="#000" stroke-width="0.7"/>
<text x="503.8" y="362.0" font-size="9.3" text-anchor="start" font-weight="normal" >M1-CD4</text>
<path d="M479.6 370.7 H501.1" stroke="#222" stroke-width="0.7"/>
<path d="M490.4 368.7 L492.3 372.1 L488.5 372.1 Z" fill="#000"/>
<text x="503.8" y="373.9" font-size="9.3" text-anchor="start" font-weight="normal" >M1-CD3</text>
</svg>
</body></html>
